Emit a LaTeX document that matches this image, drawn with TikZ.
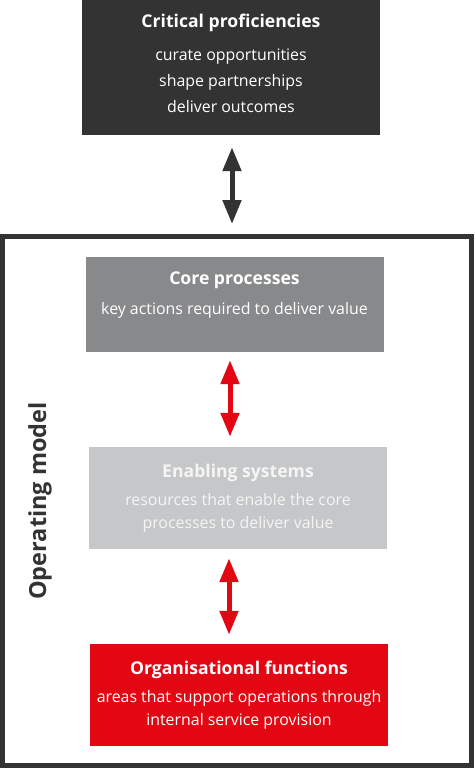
\documentclass[tikz,border=0pt]{standalone}
\usepackage{fontspec}
\setmainfont{Open Sans}
\usetikzlibrary{arrows.meta}

\definecolor{charcoal}{HTML}{333333}
\definecolor{coregrey}{HTML}{88898B}
\definecolor{palegrey}{HTML}{C5C7C9}
\definecolor{brandred}{HTML}{E30613}

\newcommand{\boxtitle}[1]{{\bfseries\fontsize{17.6}{23}\selectfont #1}}

\begin{document}
\begin{tikzpicture}[x=1pt,y=1pt,
    box/.style={minimum width=298pt,inner sep=0pt,align=center,text=white,
        font=\fontsize{15.9}{23}\selectfont},
    link/.style={line width=5pt,
        {Triangle[length=24pt,width=18pt]}-{Triangle[length=24pt,width=18pt]}}]
    \useasboundingbox (0,0) rectangle (474,-768);
    % top box
    \node[box,fill=charcoal,minimum height=143pt,font=\fontsize{15.9}{26}\selectfont] (crit) at (231,-63.5)
        {\boxtitle{Critical proficiencies}\\[7pt] curate opportunities\\ shape partnerships\\ deliver outcomes};
    % operating model frame
    \node[draw=charcoal,line width=5pt,minimum width=469pt,minimum height=529pt,inner sep=0pt] (opframe) at (237,-501) {};
    \node[rotate=90,text=charcoal,font=\bfseries\fontsize{23.5}{28}\selectfont] (oplabel) at (40,-501) {Operating model};
    \node[box,fill=coregrey,minimum height=95pt] (core) at (234.5,-304.5)
        {\boxtitle{Core processes}\\[7pt] key actions required to deliver value\\ ~};
    \node[box,fill=palegrey,minimum height=102pt,text=white!96!black] (enable) at (238,-498)
        {\boxtitle{Enabling systems}\\[5pt] resources that enable the core\\ processes to deliver value};
    \node[box,fill=brandred,minimum height=102pt] (orgfn) at (239,-695)
        {\boxtitle{Organisational functions}\\[5pt] areas that support operations through\\ internal service provision};
    % arrows
    \draw[link,charcoal,shorten <=12pt,shorten >=10pt] ([xshift=1pt]crit.south) -- ([xshift=1pt]crit.south |- opframe.north);
    \draw[link,brandred,shorten <=8pt,shorten >=10pt] ([xshift=-4.5pt]core.south) -- ([xshift=-4.5pt]core.south |- enable.north);
    \draw[link,brandred,shorten <=9pt,shorten >=9pt] ([xshift=-9pt]enable.south) -- ([xshift=-9pt]enable.south |- orgfn.north);
\end{tikzpicture}
\end{document}
